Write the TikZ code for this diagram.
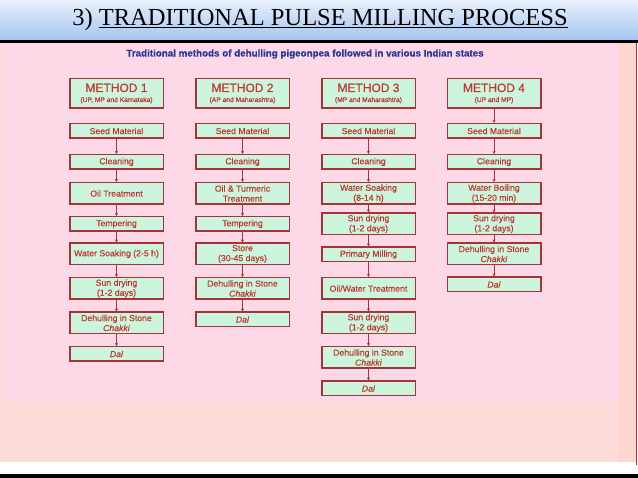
\documentclass[tikz,border=0pt]{standalone}
\usepackage{fontspec}
\setmainfont{Liberation Serif}
\newfontfamily\arial[FakeBold=0.35]{Liberation Sans}
\usetikzlibrary{arrows.meta}
\definecolor{panelpink}{HTML}{FDD8E7}
\definecolor{outerpink}{HTML}{FDDBD8}
\definecolor{boxfill}{HTML}{CDF5DE}
\definecolor{boxline}{HTML}{A4343A}
\definecolor{boxtext}{HTML}{BE3530}
\definecolor{subblue}{HTML}{2B3590}
\definecolor{bartop}{HTML}{E8F0FC}
\definecolor{barbottom}{HTML}{A6C5F0}
\tikzset{
  stepbox/.style={draw=boxline, line width=1.5pt, fill=boxfill, text=boxtext,
    minimum width=93.5pt, minimum height=14.5pt, inner sep=0pt, align=center,
    font=\arial\fontsize{8.7}{10}\selectfont},
  tallbox/.style={stepbox, minimum height=21.5pt},
  headbox/.style={stepbox, minimum height=29.5pt, font=\arial\fontsize{12}{11}\selectfont},
  flow/.style={draw=boxline, line width=0.7pt, -{Stealth[length=3pt,width=3pt]}}
}
\newcommand{\region}[1]{\\[-1pt]{\fontsize{6.7}{7}\selectfont(#1)}}
\begin{document}
\begin{tikzpicture}[x=1pt, y=-1pt]
  \useasboundingbox (0,0) rectangle (638,478);
  \fill[top color=bartop, bottom color=barbottom] (0,0) rectangle (638,40);
  \fill[outerpink] (0,43) rectangle (636,462);
  \fill[orange!4!outerpink] (618,43) rectangle (636,462);
  \fill[panelpink] (3,43) rectangle (618,402);
  \draw[line width=3.5pt] (0,41.5) -- (638,41.5);
  \draw[boxline, line width=1.2pt] (636.5,43) -- (636.5,465);
  \draw[line width=4pt] (0,476) -- (638,476);
  \node (title) at (320,20) {\fontsize{24.5}{26}\selectfont 3) \underline{TRADITIONAL PULSE MILLING PROCESS}};
  \node[text=subblue, font=\arial\bfseries\fontsize{9.8}{11}\selectfont] (subtitle) at (305,54)
    {Traditional methods of dehulling pigeonpea followed in various Indian states};

  \node[headbox] (m1h) at (116.5,93.5) {METHOD 1\region{UP, MP and Karnataka}};
  \node[stepbox] (m1a) at (116.5,131) {Seed Material};
  \node[stepbox] (m1b) at (116.5,162) {Cleaning};
  \node[tallbox] (m1c) at (116.5,193.5) {Oil Treatment};
  \node[stepbox] (m1d) at (116.5,224) {Tempering};
  \node[tallbox] (m1e) at (116.5,254) {Water Soaking (2-5 h)};
  \node[tallbox] (m1f) at (116.5,288.5) {Sun drying\\(1-2 days)};
  \node[tallbox] (m1g) at (116.5,323) {Dehulling in Stone\\\textit{Chakki}};
  \node[stepbox] (m1i) at (116.5,354) {\textit{Dal}};

  \node[headbox] (m2h) at (242.5,93.5) {METHOD 2\region{AP and Maharashtra}};
  \node[stepbox] (m2a) at (242.5,131) {Seed Material};
  \node[stepbox] (m2b) at (242.5,162) {Cleaning};
  \node[tallbox] (m2c) at (242.5,193.5) {Oil \& Turmeric\\Treatment};
  \node[stepbox] (m2d) at (242.5,224) {Tempering};
  \node[tallbox] (m2e) at (242.5,254) {Store\\(30-45 days)};
  \node[tallbox] (m2f) at (242.5,288.5) {Dehulling in Stone\\\textit{Chakki}};
  \node[stepbox] (m2i) at (242.5,319.5) {\textit{Dal}};

  \node[headbox] (m3h) at (368.5,93.5) {METHOD 3\region{MP and Maharashtra}};
  \node[stepbox] (m3a) at (368.5,131) {Seed Material};
  \node[stepbox] (m3b) at (368.5,162) {Cleaning};
  \node[tallbox] (m3c) at (368.5,193.5) {Water Soaking\\(8-14 h)};
  \node[tallbox] (m3d) at (368.5,224) {Sun drying\\(1-2 days)};
  \node[stepbox] (m3e) at (368.5,254.5) {Primary Milling};
  \node[tallbox] (m3f) at (368.5,288.5) {Oil/Water Treatment};
  \node[tallbox] (m3g) at (368.5,323) {Sun drying\\(1-2 days)};
  \node[tallbox] (m3j) at (368.5,357.5) {Dehulling in Stone\\\textit{Chakki}};
  \node[stepbox] (m3i) at (368.5,388.5) {\textit{Dal}};

  \node[headbox] (m4h) at (494,93.5) {METHOD 4\region{UP and MP}};
  \node[stepbox] (m4a) at (494,131) {Seed Material};
  \node[stepbox] (m4b) at (494,162) {Cleaning};
  \node[tallbox] (m4c) at (494,193.5) {Water Boiling\\(15-20 min)};
  \node[tallbox] (m4d) at (494,224) {Sun drying\\(1-2 days)};
  \node[tallbox] (m4e) at (494,254) {Dehulling in Stone\\\textit{Chakki}};
  \node[stepbox] (m4i) at (494,284.5) {\textit{Dal}};

  \draw[flow] (m1a) -- (m1b);
  \draw[flow] (m1b) -- (m1c);
  \draw[flow] (m1c) -- (m1d);
  \draw[flow] (m1d) -- (m1e);
  \draw[flow] (m1e) -- (m1f);
  \draw[flow] (m1f) -- (m1g);
  \draw[flow] (m1g) -- (m1i);
  \draw[flow] (m2a) -- (m2b);
  \draw[flow] (m2b) -- (m2c);
  \draw[flow] (m2c) -- (m2d);
  \draw[flow] (m2d) -- (m2e);
  \draw[flow] (m2e) -- (m2f);
  \draw[flow] (m2f) -- (m2i);
  \draw[flow] (m3a) -- (m3b);
  \draw[flow] (m3b) -- (m3c);
  \draw[flow] (m3c) -- (m3d);
  \draw[flow] (m3d) -- (m3e);
  \draw[flow] (m3e) -- (m3f);
  \draw[flow] (m3f) -- (m3g);
  \draw[flow] (m3g) -- (m3j);
  \draw[flow] (m3j) -- (m3i);
  \draw[flow] (m4h) -- (m4a);
  \draw[flow] (m4a) -- (m4b);
  \draw[flow] (m4b) -- (m4c);
  \draw[flow] (m4c) -- (m4d);
  \draw[flow] (m4d) -- (m4e);
  \draw[flow] (m4e) -- (m4i);
\end{tikzpicture}
\end{document}
